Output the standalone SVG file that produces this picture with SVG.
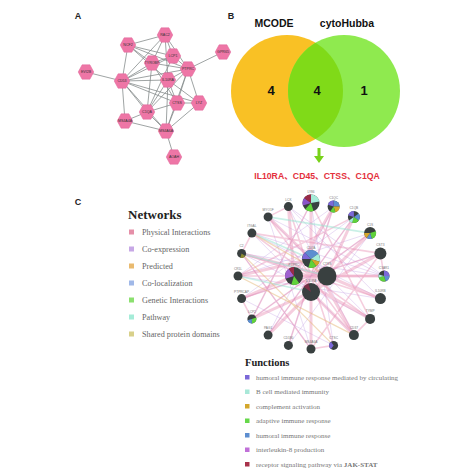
<svg xmlns="http://www.w3.org/2000/svg" width="474" height="474" viewBox="0 0 474 474">
<defs>
<style>
.pl{font-family:"Liberation Sans",Arial,sans-serif;font-weight:bold;font-size:9px;fill:#222;text-anchor:middle}
.hx{fill:#ee76a6;stroke:#e0679a;stroke-width:0.5}
.hl{font-family:"Liberation Sans",Arial,sans-serif;font-size:3.6px;fill:#333;text-anchor:middle}
.ae{stroke:#7f8686;stroke-width:0.75;fill:none}
.vt{font-family:"Liberation Sans",Arial,sans-serif;font-weight:bold;fill:#111;text-anchor:middle}
.hd{font-family:"Liberation Serif","Times New Roman",serif;font-weight:bold;fill:#222}
.lg{font-family:"Liberation Serif","Times New Roman",serif;font-size:8.2px;fill:#666}
.fn{font-family:"Liberation Serif","Times New Roman",serif;font-size:7px;fill:#777}
.gn{fill:#394040}
.gl{font-family:"Liberation Sans",Arial,sans-serif;font-size:3.2px;fill:#777;text-anchor:middle}
.sg{fill:none;stroke-dasharray:var(--l) 100}
</style>
<polygon id="hex" points="-7.8,0 -3.9,-7.2 3.9,-7.2 7.8,0 3.9,7.2 -3.9,7.2"/>
<clipPath id="lc"><circle cx="287" cy="91" r="56"/></clipPath>
</defs>
<rect width="474" height="474" fill="#fff"/>

<!-- Panel labels -->
<text class="pl" x="78" y="19">A</text>
<text class="pl" x="231" y="19">B</text>
<text class="pl" x="78" y="205">C</text>

<!-- Panel A connectors -->
<g id="a-edges" class="ae">
<path d="M86,72L122,81 M223,52L188,69 M174,157L166,131
M165,35L128,45 M165,35L173,56 M165,35L152,63 M165,35L188,69 M165,35L122,81 M165,35L168,80
M128,45L122,81 M128,45L152,63 M128,45L173,56 M128,45L188,69 M128,45L168,80
M173,56L152,63 M173,56L188,69 M173,56L122,81 M173,56L147,112
M152,63L188,69 M152,63L122,81 M152,63L147,112 M152,63L177,103
M188,69L168,80 M188,69L122,81 M188,69L199,103 M188,69L177,103 M188,69L147,112 M188,69L166,131
M168,80L122,81 M168,80L177,103 M168,80L147,112 M168,80L166,131 M168,80L199,103
M122,81L177,103 M122,81L199,103 M122,81L147,112 M122,81L125,121 M122,81L166,131
M177,103L199,103 M177,103L147,112 M177,103L166,131 M199,103L166,131
M147,112L125,121 M147,112L166,131 M125,121L166,131"/>
</g>

<!-- Panel A nodes -->
<g id="a-RAC2" transform="translate(165,35)"><use href="#hex" class="hx"/><text class="hl" y="1.3">RAC2</text></g>
<g id="a-NCF2" transform="translate(128,45)"><use href="#hex" class="hx"/><text class="hl" y="1.3">NCF2</text></g>
<g id="a-LCP1" transform="translate(173,56)"><use href="#hex" class="hx"/><text class="hl" y="1.3">LCP1</text></g>
<g id="a-TYROBP" transform="translate(152,63)"><use href="#hex" class="hx"/><text class="hl" y="1.3">TYROBP</text></g>
<g id="a-PTPRC" transform="translate(188,69)"><use href="#hex" class="hx"/><text class="hl" y="1.3">PTPRC</text></g>
<g id="a-GPR65" transform="translate(223,52)"><use href="#hex" class="hx"/><text class="hl" y="1.3">GPR65</text></g>
<g id="a-IL10RA" transform="translate(168,80)"><use href="#hex" class="hx"/><text class="hl" y="1.3">IL10RA</text></g>
<g id="a-CD53" transform="translate(122,81)"><use href="#hex" class="hx"/><text class="hl" y="1.3">CD53</text></g>
<g id="a-EVI2B" transform="translate(86,72)"><use href="#hex" class="hx"/><text class="hl" y="1.3">EVI2B</text></g>
<g id="a-CTSS" transform="translate(177,103)"><use href="#hex" class="hx"/><text class="hl" y="1.3">CTSS</text></g>
<g id="a-LYZ" transform="translate(199,103)"><use href="#hex" class="hx"/><text class="hl" y="1.3">LYZ</text></g>
<g id="a-C1QA" transform="translate(147,112)"><use href="#hex" class="hx"/><text class="hl" y="1.3">C1QA</text></g>
<g id="a-MS4A4A" transform="translate(125,121)"><use href="#hex" class="hx"/><text class="hl" y="1.3">MS4A4A</text></g>
<g id="a-MS4A6A" transform="translate(166,131)"><use href="#hex" class="hx"/><text class="hl" y="1.3">MS4A6A</text></g>
<g id="a-AOAH" transform="translate(174,157)"><use href="#hex" class="hx"/><text class="hl" y="1.3">AOAH</text></g>

<!-- Panel B Venn -->
<g id="venn-mcode"><circle cx="287" cy="91" r="56" fill="#f9c125"/></g>
<g id="venn-cytohubba"><circle cx="344" cy="91" r="56" fill="#8fea4f"/>
<circle cx="344" cy="91" r="56" fill="#80da18" clip-path="url(#lc)"/></g>
<text class="vt" x="274" y="27" font-size="10.5">MCODE</text>
<text class="vt" x="347" y="27" font-size="10.5">cytoHubba</text>
<text class="vt" x="271" y="95" font-size="13">4</text>
<text class="vt" x="317" y="95" font-size="13">4</text>
<text class="vt" x="364" y="95" font-size="13">1</text>
<g id="arrow"><path d="M317.5,148 h3 v8 h3.5 l-5,7 l-5,-7 h3.5 z" fill="#78d21a"/></g>
<text x="317" y="179" font-family="'Liberation Sans','Noto Sans CJK SC',sans-serif" font-weight="bold" font-size="8.7" fill="#e4303c" text-anchor="middle">IL10RA、CD45、CTSS、C1QA</text>

<!-- Networks legend -->
<text class="hd" x="128" y="219" font-size="13">Networks</text>
<g id="legend-networks">
<rect x="129" y="229.5" width="5" height="5" fill="#e58fa8"/><text class="lg" x="142" y="234.8">Physical Interactions</text>
<rect x="129" y="246.5" width="5" height="5" fill="#c7a8e6"/><text class="lg" x="142" y="251.8">Co-expression</text>
<rect x="129" y="263.5" width="5" height="5" fill="#e9ba6f"/><text class="lg" x="142" y="268.8">Predicted</text>
<rect x="129" y="280.5" width="5" height="5" fill="#a0b8e8"/><text class="lg" x="142" y="285.8">Co-localization</text>
<rect x="129" y="297.5" width="5" height="5" fill="#8be06f"/><text class="lg" x="142" y="302.8">Genetic Interactions</text>
<rect x="129" y="314.5" width="5" height="5" fill="#a5ecd8"/><text class="lg" x="142" y="319.8">Pathway</text>
<rect x="129" y="331.5" width="5" height="5" fill="#d8d08a"/><text class="lg" x="142" y="336.8">Shared protein domains</text>
</g>

<!-- GeneMANIA connectors -->
<g id="c-edges" fill="none" stroke-linecap="round">
<path stroke="#c9a8e6" stroke-opacity="0.5" stroke-width="0.8" d="M241.6,253.4L384,276 M251.9,233.1L380.4,298.6 M268.1,216.9L370.1,318.9 M288.4,206.6L353.9,335.1 M311,203L333.6,345.4 M333.6,206.6L288.4,345.4 M353.9,216.9L268.1,335.1 M370.1,233.1L251.9,318.9 M380.4,253.4L241.6,298.6 M238,276L380.4,298.6 M241.6,298.6L353.9,216.9 M251.9,318.9L311,203 M268.1,335.1L333.6,206.6 M311,349L268.1,216.9 M353.9,335.1L251.9,233.1 M370.1,318.9L241.6,253.4 M380.4,298.6L288.4,206.6 M384,276L251.9,233.1 M238,276L333.6,206.6 M241.6,253.4L311,349 M288.4,345.4L370.1,233.1 M268.1,216.9L384,276 M238,276L370.1,233.1 M241.6,298.6L333.6,345.4 M288.4,206.6L384,276"/>
<path stroke="#e88bb0" stroke-opacity="0.42" stroke-width="1.6" d="M241.6,253.4L380.4,298.6 M251.9,233.1L370.1,318.9 M268.1,216.9L353.9,335.1 M288.4,206.6L333.6,345.4 M238,276L384,276 M241.6,298.6L380.4,253.4 M251.9,318.9L370.1,233.1 M268.1,335.1L353.9,216.9 M288.4,345.4L333.6,206.6 M311,203L251.9,318.9 M311,203L370.1,318.9 M311,349L241.6,253.4 M311,349L380.4,253.4 M241.6,253.4L251.9,233.1 M370.1,318.9L353.9,335.1 M333.6,345.4L311,349 M380.4,253.4L384,276 M268.1,216.9L288.4,206.6 M241.6,298.6L251.9,318.9 M251.9,233.1L380.4,253.4 M238,276L353.9,216.9"/>
<path stroke="#e88bb0" stroke-opacity="0.42" stroke-width="3" d="M311,259L311,203 M294,276L288.4,206.6 M327,276L370.1,233.1 M294,276L241.6,298.6 M311,292L380.4,253.4 M311,292L251.9,318.9 M327,276L241.6,253.4 M294,276L384,276 M311,259L353.9,335.1 M311,292L311,349 M294,276L370.1,318.9 M327,276L268.1,335.1 M311,259L238,276 M294,276L333.6,206.6 M327,276L353.9,216.9 M311,292L353.9,335.1 M311,259L268.1,216.9 M327,276L380.4,298.6"/>
<path stroke="#9fe3d4" stroke-opacity="0.55" stroke-width="1.6" d="M241.6,253.4L327,276 M238,276L311,292 M268.1,216.9L370.1,233.1 M251.9,233.1L311,259"/>
<path stroke="#e6b877" stroke-opacity="0.5" stroke-width="1.3" d="M238,276L353.9,335.1 M241.6,253.4L333.6,345.4 M251.9,233.1L327,276"/>
</g>

<!-- GeneMANIA nodes -->
<g id="g-LY86" transform="translate(311,203)"><circle class="gn" r="8.5"/>
<g transform="rotate(-90)" stroke-width="8.5">
<circle r="4.25" pathLength="100" class="sg" style="--l:22" stroke="#a5ecd8"/>
<circle r="4.25" pathLength="100" class="sg" style="--l:17" stroke="#5fd23a" stroke-dashoffset="-45"/>
<circle r="4.25" pathLength="100" class="sg" style="--l:15" stroke="#8a55c8" stroke-dashoffset="-70"/>
<circle r="4.25" pathLength="100" class="sg" style="--l:15" stroke="#9a2a48" stroke-dashoffset="-85"/>
</g><text class="gl" y="-10">LY86</text></g>
<g id="g-C1QC" transform="translate(333.6,206.6)"><circle class="gn" r="6"/>
<g transform="rotate(-90)" stroke-width="6">
<circle r="3" pathLength="100" class="sg" style="--l:25" stroke="#5d8ed0"/>
<circle r="3" pathLength="100" class="sg" style="--l:20" stroke="#d4a72c" stroke-dashoffset="-25"/>
<circle r="3" pathLength="100" class="sg" style="--l:15" stroke="#5fd23a" stroke-dashoffset="-45"/>
<circle r="3" pathLength="100" class="sg" style="--l:20" stroke="#7b68d8" stroke-dashoffset="-80"/>
</g><text class="gl" y="-7.5">C1QC</text></g>
<g id="g-C1QB" transform="translate(353.9,216.9)"><circle class="gn" r="6"/>
<g transform="rotate(-90)" stroke-width="6">
<circle r="3" pathLength="100" class="sg" style="--l:20" stroke="#5d8ed0" stroke-dashoffset="-15"/>
<circle r="3" pathLength="100" class="sg" style="--l:20" stroke="#5fd23a" stroke-dashoffset="-35"/>
<circle r="3" pathLength="100" class="sg" style="--l:10" stroke="#a5ecd8" stroke-dashoffset="-55"/>
<circle r="3" pathLength="100" class="sg" style="--l:20" stroke="#7b68d8" stroke-dashoffset="-80"/>
</g><text class="gl" y="-7.5">C1QB</text></g>
<g id="g-C1S" transform="translate(370.1,233.1)"><circle class="gn" r="6"/>
<g transform="rotate(-90)" stroke-width="6">
<circle r="3" pathLength="100" class="sg" style="--l:25" stroke="#5fd23a" stroke-dashoffset="-20"/>
<circle r="3" pathLength="100" class="sg" style="--l:15" stroke="#5d8ed0" stroke-dashoffset="-45"/>
<circle r="3" pathLength="100" class="sg" style="--l:15" stroke="#d4a72c" stroke-dashoffset="-60"/>
</g><text class="gl" y="-7.5">C1S</text></g>
<g id="g-CST3" transform="translate(380.4,253.4)"><circle class="gn" r="6"/><text class="gl" y="-7.5">CST3</text></g>
<g id="g-C3AR1" transform="translate(384,276)"><circle class="gn" r="5.5"/>
<g transform="rotate(-90)" stroke-width="5.5">
<circle r="2.75" pathLength="100" class="sg" style="--l:25" stroke="#7b68d8"/>
<circle r="2.75" pathLength="100" class="sg" style="--l:20" stroke="#5d8ed0" stroke-dashoffset="-25"/>
<circle r="2.75" pathLength="100" class="sg" style="--l:25" stroke="#5fd23a" stroke-dashoffset="-45"/>
<circle r="2.75" pathLength="100" class="sg" style="--l:10" stroke="#a5ecd8" stroke-dashoffset="-70"/>
</g><text class="gl" y="-7">C3AR1</text></g>
<g id="g-IL10RB" transform="translate(380.4,298.6)"><circle class="gn" r="5.5"/><text class="gl" y="-7">IL10RB</text></g>
<g id="g-TYMP" transform="translate(370.1,318.9)"><circle class="gn" r="5"/><text class="gl" y="-6.5">TYMP</text></g>
<g id="g-CD37" transform="translate(353.9,335.1)"><circle class="gn" r="5"/><text class="gl" y="-6.5">CD37</text></g>
<g id="g-CTSC" transform="translate(333.6,345.4)"><circle class="gn" r="4.5"/>
<g transform="rotate(-90)" stroke-width="4.5">
<circle r="2.25" pathLength="100" class="sg" style="--l:30" stroke="#7b68d8" stroke-dashoffset="-60"/>
</g><text class="gl" y="-6">CTSC</text></g>
<g id="g-MS4A6A" transform="translate(311,349)"><circle class="gn" r="4.5"/><text class="gl" y="-6">MS4A6A</text></g>
<g id="g-CD180" transform="translate(288.4,345.4)"><circle class="gn" r="4.5"/><text class="gl" y="-6">CD180</text></g>
<g id="g-PAG1" transform="translate(268.1,335.1)"><circle class="gn" r="4.5"/><text class="gl" y="-6">PAG1</text></g>
<g id="g-LCP2" transform="translate(251.9,318.9)"><circle class="gn" r="4.5"/>
<g transform="rotate(-90)" stroke-width="4.5">
<circle r="2.25" pathLength="100" class="sg" style="--l:30" stroke="#5fd23a" stroke-dashoffset="-20"/>
<circle r="2.25" pathLength="100" class="sg" style="--l:20" stroke="#5d8ed0" stroke-dashoffset="-50"/>
</g><text class="gl" y="-6">LCP2</text></g>
<g id="g-PTPRCAP" transform="translate(241.6,298.6)"><circle class="gn" r="4.5"/><text class="gl" y="-6">PTPRCAP</text></g>
<g id="g-CR1L" transform="translate(238,276)"><circle class="gn" r="4.5"/><text class="gl" y="-6">CR1L</text></g>
<g id="g-C2" transform="translate(241.6,253.4)"><circle class="gn" r="4.5"/>
<g transform="rotate(-90)" stroke-width="4.5">
<circle r="2.25" pathLength="100" class="sg" style="--l:20" stroke="#8a8a30" stroke-dashoffset="-35"/>
</g><text class="gl" y="-6">C2</text></g>
<g id="g-ITGAL" transform="translate(251.9,233.1)"><circle class="gn" r="4.5"/><text class="gl" y="-6">ITGAL</text></g>
<g id="g-MYO1F" transform="translate(268.1,216.9)"><circle class="gn" r="4.5"/><text class="gl" y="-6">MYO1F</text></g>
<g id="g-LCK" transform="translate(288.4,206.6)"><circle class="gn" r="4.5"/><text class="gl" y="-6">LCK</text></g>

<g id="g-C1QA" transform="translate(311,259)"><circle class="gn" r="9"/>
<g transform="rotate(-90)" stroke-width="9">
<circle r="4.5" pathLength="100" class="sg" style="--l:15" stroke="#5d8ed0"/>
<circle r="4.5" pathLength="100" class="sg" style="--l:15" stroke="#a5ecd8" stroke-dashoffset="-15"/>
<circle r="4.5" pathLength="100" class="sg" style="--l:10" stroke="#d4a72c" stroke-dashoffset="-30"/>
<circle r="4.5" pathLength="100" class="sg" style="--l:15" stroke="#5fd23a" stroke-dashoffset="-40"/>
<circle r="4.5" pathLength="100" class="sg" style="--l:13" stroke="#7b68d8" stroke-dashoffset="-75"/>
<circle r="4.5" pathLength="100" class="sg" style="--l:12" stroke="#5d8ed0" stroke-dashoffset="-88"/>
</g><text class="gl" y="-10.5">C1QA</text></g>
<g id="g-PTPRC" transform="translate(294,276)"><circle class="gn" r="9"/>
<g transform="rotate(-90)" stroke-width="9">
<circle r="4.5" pathLength="100" class="sg" style="--l:15" stroke="#5fd23a" stroke-dashoffset="-40"/>
<circle r="4.5" pathLength="100" class="sg" style="--l:20" stroke="#a060d0" stroke-dashoffset="-70"/>
<circle r="4.5" pathLength="100" class="sg" style="--l:10" stroke="#9a2a48" stroke-dashoffset="-90"/>
</g><text class="gl" y="-10.5">PTPRC</text></g>
<g id="g-CTSS" transform="translate(327,276)"><circle class="gn" r="9.5"/><text class="gl" y="-11">CTSS</text></g>
<g id="g-IL10RA" transform="translate(311,292)"><circle class="gn" r="9"/>
<g transform="rotate(-90)" stroke-width="9">
<circle r="4.5" pathLength="100" class="sg" style="--l:10" stroke="#9a2a48" stroke-opacity="0.7" stroke-dashoffset="-85"/>
</g><text class="gl" y="-10.5">IL10RA</text></g>

<!-- Functions legend -->
<text class="hd" x="245" y="366" font-size="10.5">Functions</text>
<g id="legend-functions">
<rect x="245" y="375" width="4.5" height="4.5" fill="#7b68d8"/><text class="fn" x="256" y="379.5">humoral immune response mediated by circulating</text>
<rect x="245" y="389.5" width="4.5" height="4.5" fill="#a8e8d8"/><text class="fn" x="256" y="394">B cell mediated immunity</text>
<rect x="245" y="404" width="4.5" height="4.5" fill="#d4a72c"/><text class="fn" x="256" y="408.5">complement activation</text>
<rect x="245" y="418.5" width="4.5" height="4.5" fill="#66d84a"/><text class="fn" x="256" y="423">adaptive immune response</text>
<rect x="245" y="433" width="4.5" height="4.5" fill="#5d8ed0"/><text class="fn" x="256" y="437.5">humoral immune response</text>
<rect x="245" y="447.5" width="4.5" height="4.5" fill="#c070d8"/><text class="fn" x="256" y="452">interleukin-8 production</text>
<rect x="245" y="462" width="4.5" height="4.5" fill="#a8324a"/><text class="fn" x="256" y="466.5">receptor signaling pathway via <tspan font-weight="bold">JAK-STAT</tspan></text>
</g>
</svg>
